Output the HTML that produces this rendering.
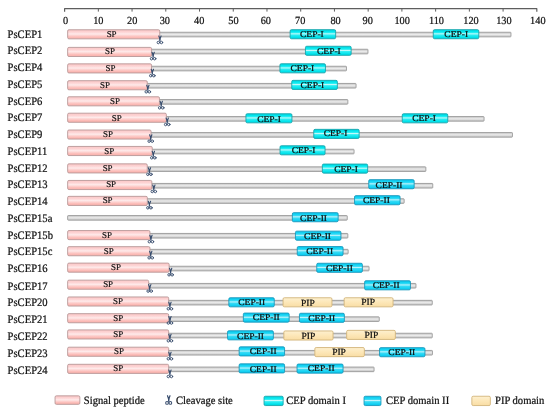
<!DOCTYPE html>
<html><head><meta charset="utf-8"><title>PsCEP protein domains</title>
<style>
html,body{margin:0;padding:0;background:#fff;}
body{width:550px;height:412px;overflow:hidden;}
svg{display:block;}
text{text-rendering:geometricPrecision;}
.t{font-family:"Liberation Serif",serif;font-size:10.6px;fill:#111;stroke:#111;stroke-width:0.22px;}
.b{font-family:"Liberation Serif",serif;font-size:9.5px;fill:#0a0a0a;stroke:#0a0a0a;stroke-width:0.24px;}
.s{font-family:"Liberation Serif",serif;font-size:8.95px;fill:#111;stroke:#111;stroke-width:0.2px;}
.k{font-family:"Liberation Serif",serif;font-size:10.3px;fill:#111;stroke:#111;stroke-width:0.22px;}
.l{font-family:"Liberation Serif",serif;font-size:10.6px;fill:#111;stroke:#111;stroke-width:0.22px;}
</style></head>
<body>
<svg width="550" height="412" viewBox="0 0 550 412">
<defs>
<linearGradient id="gsp" x1="0" y1="0" x2="0" y2="1">
<stop offset="0" stop-color="#fbc6c6"/><stop offset="0.25" stop-color="#fdd3d3"/><stop offset="0.47" stop-color="#feeaea"/><stop offset="0.6" stop-color="#fdd6d4"/><stop offset="0.8" stop-color="#fcbcb8"/><stop offset="1" stop-color="#f7b0aa"/></linearGradient>
<linearGradient id="gc1" x1="0" y1="0" x2="0" y2="1">
<stop offset="0" stop-color="#06d2da"/><stop offset="0.2" stop-color="#00e6ee"/><stop offset="0.35" stop-color="#30f0f4"/><stop offset="0.46" stop-color="#c8fafa"/><stop offset="0.58" stop-color="#30eef4"/><stop offset="0.85" stop-color="#00e2ea"/><stop offset="1" stop-color="#02cdd6"/></linearGradient>
<linearGradient id="gc2" x1="0" y1="0" x2="0" y2="1">
<stop offset="0" stop-color="#0cc4ea"/><stop offset="0.2" stop-color="#14d4f4"/><stop offset="0.35" stop-color="#3adcf6"/><stop offset="0.46" stop-color="#c4f4fc"/><stop offset="0.58" stop-color="#3adcf6"/><stop offset="0.85" stop-color="#12d0f2"/><stop offset="1" stop-color="#0abfe6"/></linearGradient>
<linearGradient id="gpip" x1="0" y1="0" x2="0" y2="1">
<stop offset="0" stop-color="#fdf0d0"/><stop offset="0.45" stop-color="#fde8ba"/><stop offset="1" stop-color="#f9dda4"/></linearGradient>
<linearGradient id="ggr" x1="0" y1="0" x2="0" y2="1">
<stop offset="0" stop-color="#cdcdcd"/><stop offset="0.25" stop-color="#d6d6d6"/><stop offset="0.5" stop-color="#ebebeb"/><stop offset="0.75" stop-color="#d2d2d2"/><stop offset="1" stop-color="#c8c8c8"/></linearGradient>
<g id="sc" fill="none" stroke="#384d6e" stroke-linecap="round">
<path d="M-1.1 0.4 L0 3.5 L1.2 0.4" stroke-width="1.1"/>
<path d="M0 3.2 V5.3" stroke-width="1.3"/>
<circle cx="-1.55" cy="6.9" r="1.25" stroke-width="0.95"/>
<circle cx="1.55" cy="6.9" r="1.25" stroke-width="0.95"/>
</g>
</defs>
<rect width="550" height="412" fill="#fff"/>
<path d="M64.6 11.8V8.7H536.82 V11.8" fill="none" stroke="#5e5e5e" stroke-width="1.2" stroke-linejoin="round"/>
<path d="M98.33 8.7V11.6 M132.06 8.7V11.6 M165.79 8.7V11.6 M199.52 8.7V11.6 M233.25 8.7V11.6 M266.98 8.7V11.6 M300.71 8.7V11.6 M334.44 8.7V11.6 M368.17 8.7V11.6 M401.9 8.7V11.6 M435.63 8.7V11.6 M469.36 8.7V11.6 M503.09 8.7V11.6" stroke="#5e5e5e" stroke-width="1"/>
<text transform="translate(65.5 24.45) scale(1 1.06)" class="k" text-anchor="middle">0</text>
<text transform="translate(98.33 24.45) scale(1 1.06)" class="k" text-anchor="middle">10</text>
<text transform="translate(132.26 24.45) scale(1 1.06)" class="k" text-anchor="middle">20</text>
<text transform="translate(164.79 24.45) scale(1 1.06)" class="k" text-anchor="middle">30</text>
<text transform="translate(199.22 24.45) scale(1 1.06)" class="k" text-anchor="middle">40</text>
<text transform="translate(233.45 24.45) scale(1 1.06)" class="k" text-anchor="middle">50</text>
<text transform="translate(265.78 24.45) scale(1 1.06)" class="k" text-anchor="middle">60</text>
<text transform="translate(300.21 24.45) scale(1 1.06)" class="k" text-anchor="middle">70</text>
<text transform="translate(335.54 24.45) scale(1 1.06)" class="k" text-anchor="middle">80</text>
<text transform="translate(367.67 24.45) scale(1 1.06)" class="k" text-anchor="middle">90</text>
<text transform="translate(402.1 24.45) scale(1 1.06)" class="k" text-anchor="middle">100</text>
<text transform="translate(436.43 24.45) scale(1 1.06)" class="k" text-anchor="middle">110</text>
<text transform="translate(470.96 24.45) scale(1 1.06)" class="k" text-anchor="middle">120</text>
<text transform="translate(503.89 24.45) scale(1 1.06)" class="k" text-anchor="middle">130</text>
<text transform="translate(537.82 24.45) scale(1 1.06)" class="k" text-anchor="middle">140</text>
<text transform="translate(7.6 37.8) scale(1 1.08)" class="t">PsCEP1</text>
<rect x="158.65" y="32.25" width="352.3" height="4.6" rx="0.6" fill="url(#ggr)" stroke="#9a9a9a" stroke-width="0.9"/>
<rect x="67.65" y="29.75" width="92.1" height="9.1" rx="1.3" fill="url(#gsp)" stroke="#b89898" stroke-width="0.9"/>
<text transform="translate(111.6 37.2) scale(1 1)" class="s" text-anchor="middle">SP</text>
<rect x="290.15" y="29.65" width="45.5" height="9.1" rx="1.3" fill="url(#gc1)" stroke="#18a6ae" stroke-width="0.9"/>
<text transform="translate(311.9 36.7) scale(1 0.93)" class="b" text-anchor="middle">CEP-I</text>
<rect x="433.25" y="29.65" width="45.5" height="9.1" rx="1.3" fill="url(#gc1)" stroke="#18a6ae" stroke-width="0.9"/>
<text transform="translate(456.2 36.7) scale(1 0.93)" class="b" text-anchor="middle">CEP-I</text>
<use href="#sc" x="159.9" y="35.6"/>
<text transform="translate(7.6 54.2) scale(1 1.08)" class="t">PsCEP2</text>
<rect x="150.45" y="49.25" width="217.5" height="4.6" rx="0.6" fill="url(#ggr)" stroke="#9a9a9a" stroke-width="0.9"/>
<rect x="67.65" y="47.4" width="83.9" height="9.1" rx="1.3" fill="url(#gsp)" stroke="#b89898" stroke-width="0.9"/>
<text transform="translate(109.9 54.4) scale(1 1)" class="s" text-anchor="middle">SP</text>
<rect x="305.45" y="46.25" width="45.7" height="9.1" rx="1.3" fill="url(#gc1)" stroke="#18a6ae" stroke-width="0.9"/>
<text transform="translate(328.9 53.8) scale(1 0.93)" class="b" text-anchor="middle">CEP-I</text>
<use href="#sc" x="153.1" y="51.8"/>
<text transform="translate(7.6 70.6) scale(1 1.08)" class="t">PsCEP4</text>
<rect x="150.45" y="66.25" width="196" height="4.6" rx="0.6" fill="url(#ggr)" stroke="#9a9a9a" stroke-width="0.9"/>
<rect x="67.65" y="63.85" width="83.9" height="9.1" rx="1.3" fill="url(#gsp)" stroke="#b89898" stroke-width="0.9"/>
<text transform="translate(110.5 71.4) scale(1 1)" class="s" text-anchor="middle">SP</text>
<rect x="279.95" y="63.75" width="45.5" height="9.1" rx="1.3" fill="url(#gc1)" stroke="#18a6ae" stroke-width="0.9"/>
<text transform="translate(302.4 71.1) scale(1 0.93)" class="b" text-anchor="middle">CEP-I</text>
<use href="#sc" x="152.3" y="68.8"/>
<text transform="translate(7.6 87.8) scale(1 1.08)" class="t">PsCEP5</text>
<rect x="146.15" y="83.45" width="209.9" height="4.6" rx="0.6" fill="url(#ggr)" stroke="#9a9a9a" stroke-width="0.9"/>
<rect x="67.65" y="80.7" width="79.6" height="9.1" rx="1.3" fill="url(#gsp)" stroke="#b89898" stroke-width="0.9"/>
<text transform="translate(105 88.3) scale(1 1)" class="s" text-anchor="middle">SP</text>
<rect x="291.75" y="80.35" width="45.6" height="9.1" rx="1.3" fill="url(#gc1)" stroke="#18a6ae" stroke-width="0.9"/>
<text transform="translate(312.4 87.9) scale(1 0.93)" class="b" text-anchor="middle">CEP-I</text>
<use href="#sc" x="147.8" y="84.9"/>
<text transform="translate(7.6 104.8) scale(1 1.08)" class="t">PsCEP6</text>
<rect x="158.35" y="99.55" width="189.5" height="4.6" rx="0.6" fill="url(#ggr)" stroke="#9a9a9a" stroke-width="0.9"/>
<rect x="67.65" y="96.75" width="91.8" height="9.1" rx="1.3" fill="url(#gsp)" stroke="#b89898" stroke-width="0.9"/>
<text transform="translate(114.9 103.8) scale(1 1)" class="s" text-anchor="middle">SP</text>
<use href="#sc" x="161.2" y="100.9"/>
<text transform="translate(7.6 120.8) scale(1 1.08)" class="t">PsCEP7</text>
<rect x="165.25" y="116.55" width="318.8" height="4.6" rx="0.6" fill="url(#ggr)" stroke="#9a9a9a" stroke-width="0.9"/>
<rect x="67.65" y="113.2" width="98.7" height="9.1" rx="1.3" fill="url(#gsp)" stroke="#b89898" stroke-width="0.9"/>
<text transform="translate(116.7 120.6) scale(1 1)" class="s" text-anchor="middle">SP</text>
<rect x="245.95" y="113.75" width="46" height="9.1" rx="1.3" fill="url(#gc1)" stroke="#18a6ae" stroke-width="0.9"/>
<text transform="translate(269 121.6) scale(1 0.93)" class="b" text-anchor="middle">CEP-I</text>
<rect x="402.25" y="113.75" width="45.5" height="9.1" rx="1.3" fill="url(#gc1)" stroke="#18a6ae" stroke-width="0.9"/>
<text transform="translate(424.1 121) scale(1 0.93)" class="b" text-anchor="middle">CEP-I</text>
<use href="#sc" x="167.2" y="117.6"/>
<text transform="translate(7.6 138.3) scale(1 1.08)" class="t">PsCEP9</text>
<rect x="149.95" y="132.55" width="362.5" height="4.6" rx="0.6" fill="url(#ggr)" stroke="#9a9a9a" stroke-width="0.9"/>
<rect x="67.65" y="130" width="83.4" height="9.1" rx="1.3" fill="url(#gsp)" stroke="#b89898" stroke-width="0.9"/>
<text transform="translate(107.9 137.4) scale(1 1)" class="s" text-anchor="middle">SP</text>
<rect x="313.75" y="129.35" width="45.4" height="9.1" rx="1.3" fill="url(#gc1)" stroke="#18a6ae" stroke-width="0.9"/>
<text transform="translate(335.5 136.4) scale(1 0.93)" class="b" text-anchor="middle">CEP-I</text>
<use href="#sc" x="150.7" y="134.3"/>
<text transform="translate(7.6 154.9) scale(1 1.08)" class="t">PsCEP11</text>
<rect x="151.15" y="149.25" width="202.9" height="4.6" rx="0.6" fill="url(#ggr)" stroke="#9a9a9a" stroke-width="0.9"/>
<rect x="67.65" y="146.45" width="84.6" height="9.1" rx="1.3" fill="url(#gsp)" stroke="#b89898" stroke-width="0.9"/>
<text transform="translate(109.3 153.8) scale(1 1)" class="s" text-anchor="middle">SP</text>
<rect x="280.05" y="145.75" width="45" height="9.1" rx="1.3" fill="url(#gc1)" stroke="#18a6ae" stroke-width="0.9"/>
<text transform="translate(303.5 153.3) scale(1 0.93)" class="b" text-anchor="middle">CEP-I</text>
<use href="#sc" x="153.3" y="150.9"/>
<text transform="translate(7.6 171.9) scale(1 1.08)" class="t">PsCEP12</text>
<rect x="146.15" y="166.85" width="279.7" height="4.6" rx="0.6" fill="url(#ggr)" stroke="#9a9a9a" stroke-width="0.9"/>
<rect x="67.65" y="163.85" width="79.6" height="9.1" rx="1.3" fill="url(#gsp)" stroke="#b89898" stroke-width="0.9"/>
<text transform="translate(107.6 170.6) scale(1 1)" class="s" text-anchor="middle">SP</text>
<rect x="322.35" y="164.05" width="45.3" height="9.1" rx="1.3" fill="url(#gc1)" stroke="#18a6ae" stroke-width="0.9"/>
<text transform="translate(346 171.8) scale(1 0.93)" class="b" text-anchor="middle">CEP-I</text>
<use href="#sc" x="149.4" y="167.4"/>
<text transform="translate(7.6 188.3) scale(1 1.08)" class="t">PsCEP13</text>
<rect x="150.75" y="183.45" width="282" height="4.6" rx="0.6" fill="url(#ggr)" stroke="#9a9a9a" stroke-width="0.9"/>
<rect x="67.65" y="180.45" width="84.2" height="9.1" rx="1.3" fill="url(#gsp)" stroke="#b89898" stroke-width="0.9"/>
<text transform="translate(111.1 186.8) scale(1 1)" class="s" text-anchor="middle">SP</text>
<rect x="368.75" y="179.65" width="45.4" height="9.1" rx="1.3" fill="url(#gc2)" stroke="#1a98bc" stroke-width="0.9"/>
<text transform="translate(389 187.5) scale(1 0.93)" class="b" text-anchor="middle">CEP-II</text>
<use href="#sc" x="153.8" y="184.6"/>
<text transform="translate(7.6 205.3) scale(1 1.08)" class="t">PsCEP14</text>
<rect x="146.25" y="198.75" width="257.9" height="4.6" rx="0.6" fill="url(#ggr)" stroke="#9a9a9a" stroke-width="0.9"/>
<rect x="67.65" y="196.35" width="79.7" height="9.1" rx="1.3" fill="url(#gsp)" stroke="#b89898" stroke-width="0.9"/>
<text transform="translate(107.6 203.2) scale(1 1)" class="s" text-anchor="middle">SP</text>
<rect x="354.55" y="195.65" width="45.5" height="9.1" rx="1.3" fill="url(#gc2)" stroke="#1a98bc" stroke-width="0.9"/>
<text transform="translate(376.4 203.3) scale(1 0.93)" class="b" text-anchor="middle">CEP-II</text>
<use href="#sc" x="149.4" y="200.9"/>
<text transform="translate(7.6 221.9) scale(1 1.08)" class="t">PsCEP15a</text>
<rect x="67.65" y="215.55" width="279.6" height="4.6" rx="0.6" fill="url(#ggr)" stroke="#9a9a9a" stroke-width="0.9"/>
<rect x="292.35" y="212.65" width="45.8" height="9.1" rx="1.3" fill="url(#gc2)" stroke="#1a98bc" stroke-width="0.9"/>
<text transform="translate(313.5 220.5) scale(1 0.93)" class="b" text-anchor="middle">CEP-II</text>
<text transform="translate(7.6 238.9) scale(1 1.08)" class="t">PsCEP15b</text>
<rect x="148.85" y="233.45" width="199" height="4.6" rx="0.6" fill="url(#ggr)" stroke="#9a9a9a" stroke-width="0.9"/>
<rect x="67.65" y="230.55" width="82.3" height="9.1" rx="1.3" fill="url(#gsp)" stroke="#b89898" stroke-width="0.9"/>
<text transform="translate(107 237.8) scale(1 1)" class="s" text-anchor="middle">SP</text>
<rect x="295.45" y="231.15" width="45.5" height="9.1" rx="1.3" fill="url(#gc2)" stroke="#1a98bc" stroke-width="0.9"/>
<text transform="translate(317.5 238.5) scale(1 0.93)" class="b" text-anchor="middle">CEP-II</text>
<use href="#sc" x="150.9" y="234.8"/>
<text transform="translate(7.6 255.3) scale(1 1.08)" class="t">PsCEP15c</text>
<rect x="148.85" y="249.35" width="199.3" height="4.6" rx="0.6" fill="url(#ggr)" stroke="#9a9a9a" stroke-width="0.9"/>
<rect x="67.65" y="246.65" width="82.3" height="9.1" rx="1.3" fill="url(#gsp)" stroke="#b89898" stroke-width="0.9"/>
<text transform="translate(108.8 253.8) scale(1 1)" class="s" text-anchor="middle">SP</text>
<rect x="297.25" y="246.55" width="45.8" height="9.1" rx="1.3" fill="url(#gc2)" stroke="#1a98bc" stroke-width="0.9"/>
<text transform="translate(319.7 253.8) scale(1 0.93)" class="b" text-anchor="middle">CEP-II</text>
<use href="#sc" x="150.7" y="250.9"/>
<text transform="translate(7.6 272.3) scale(1 1.08)" class="t">PsCEP16</text>
<rect x="168.05" y="266.25" width="201" height="4.6" rx="0.6" fill="url(#ggr)" stroke="#9a9a9a" stroke-width="0.9"/>
<rect x="67.65" y="263.1" width="101.5" height="9.1" rx="1.3" fill="url(#gsp)" stroke="#b89898" stroke-width="0.9"/>
<text transform="translate(116 269.6) scale(1 1)" class="s" text-anchor="middle">SP</text>
<rect x="316.75" y="263.25" width="45.6" height="9.1" rx="1.3" fill="url(#gc2)" stroke="#1a98bc" stroke-width="0.9"/>
<text transform="translate(339.4 270.5) scale(1 0.93)" class="b" text-anchor="middle">CEP-II</text>
<use href="#sc" x="170.6" y="267.9"/>
<text transform="translate(7.6 289.5) scale(1 1.08)" class="t">PsCEP17</text>
<rect x="147.55" y="283.45" width="268.4" height="4.6" rx="0.6" fill="url(#ggr)" stroke="#9a9a9a" stroke-width="0.9"/>
<rect x="67.65" y="280.15" width="81" height="9.1" rx="1.3" fill="url(#gsp)" stroke="#b89898" stroke-width="0.9"/>
<text transform="translate(108.1 287.4) scale(1 1)" class="s" text-anchor="middle">SP</text>
<rect x="364.65" y="280.75" width="45.8" height="9.1" rx="1.3" fill="url(#gc2)" stroke="#1a98bc" stroke-width="0.9"/>
<text transform="translate(386.1 288) scale(1 0.93)" class="b" text-anchor="middle">CEP-II</text>
<use href="#sc" x="149.7" y="284.2"/>
<text transform="translate(7.6 306.1) scale(1 1.08)" class="t">PsCEP20</text>
<rect x="167.55" y="300.35" width="264.7" height="4.6" rx="0.6" fill="url(#ggr)" stroke="#9a9a9a" stroke-width="0.9"/>
<rect x="67.65" y="296.95" width="101" height="9.1" rx="1.3" fill="url(#gsp)" stroke="#b89898" stroke-width="0.9"/>
<text transform="translate(118 303.8) scale(1 1)" class="s" text-anchor="middle">SP</text>
<rect x="228.85" y="297.75" width="45.4" height="9.1" rx="1.3" fill="url(#gc2)" stroke="#1a98bc" stroke-width="0.9"/>
<text transform="translate(251.7 304.7) scale(1 0.93)" class="b" text-anchor="middle">CEP-II</text>
<rect x="283.05" y="297.75" width="48.9" height="9.1" rx="1.3" fill="url(#gpip)" stroke="#d2b47a" stroke-width="0.9"/>
<text transform="translate(307.9 306) scale(1 1)" class="b" text-anchor="middle">PIP</text>
<rect x="344.15" y="297.75" width="48.9" height="9.1" rx="1.3" fill="url(#gpip)" stroke="#d2b47a" stroke-width="0.9"/>
<text transform="translate(368.2 305.3) scale(1 1)" class="b" text-anchor="middle">PIP</text>
<use href="#sc" x="169.9" y="301.9"/>
<text transform="translate(7.6 322.8) scale(1 1.08)" class="t">PsCEP21</text>
<rect x="167.55" y="316.85" width="211.7" height="4.6" rx="0.6" fill="url(#ggr)" stroke="#9a9a9a" stroke-width="0.9"/>
<rect x="67.65" y="313.65" width="101" height="9.1" rx="1.3" fill="url(#gsp)" stroke="#b89898" stroke-width="0.9"/>
<text transform="translate(118.3 320.6) scale(1 1)" class="s" text-anchor="middle">SP</text>
<rect x="243.35" y="313.05" width="45.8" height="9.1" rx="1.3" fill="url(#gc2)" stroke="#1a98bc" stroke-width="0.9"/>
<text transform="translate(266.3 320) scale(1 0.93)" class="b" text-anchor="middle">CEP-II</text>
<rect x="299.45" y="313.25" width="44.9" height="9.1" rx="1.3" fill="url(#gc2)" stroke="#1a98bc" stroke-width="0.9"/>
<text transform="translate(321.7 320.8) scale(1 0.93)" class="b" text-anchor="middle">CEP-II</text>
<use href="#sc" x="169.9" y="316.1"/>
<text transform="translate(7.6 339.8) scale(1 1.08)" class="t">PsCEP22</text>
<rect x="167.55" y="333.25" width="264.7" height="4.6" rx="0.6" fill="url(#ggr)" stroke="#9a9a9a" stroke-width="0.9"/>
<rect x="67.65" y="329.9" width="101" height="9.1" rx="1.3" fill="url(#gsp)" stroke="#b89898" stroke-width="0.9"/>
<text transform="translate(118.3 337.4) scale(1 1)" class="s" text-anchor="middle">SP</text>
<rect x="227.55" y="330.75" width="45.8" height="9.1" rx="1.3" fill="url(#gc2)" stroke="#1a98bc" stroke-width="0.9"/>
<text transform="translate(250.5 338.8) scale(1 0.93)" class="b" text-anchor="middle">CEP-II</text>
<rect x="283.85" y="330.95" width="49.2" height="9.1" rx="1.3" fill="url(#gpip)" stroke="#d2b47a" stroke-width="0.9"/>
<text transform="translate(308.4 338.8) scale(1 1)" class="b" text-anchor="middle">PIP</text>
<rect x="346.65" y="330.35" width="48.7" height="9.1" rx="1.3" fill="url(#gpip)" stroke="#d2b47a" stroke-width="0.9"/>
<text transform="translate(371.3 338.2) scale(1 1)" class="b" text-anchor="middle">PIP</text>
<use href="#sc" x="169.9" y="333.9"/>
<text transform="translate(7.6 356.5) scale(1 1.08)" class="t">PsCEP23</text>
<rect x="167.55" y="350.45" width="264.9" height="4.6" rx="0.6" fill="url(#ggr)" stroke="#9a9a9a" stroke-width="0.9"/>
<rect x="67.65" y="347.2" width="101" height="9.1" rx="1.3" fill="url(#gsp)" stroke="#b89898" stroke-width="0.9"/>
<text transform="translate(118.9 353.8) scale(1 1)" class="s" text-anchor="middle">SP</text>
<rect x="239.15" y="346.85" width="45.4" height="9.1" rx="1.3" fill="url(#gc2)" stroke="#1a98bc" stroke-width="0.9"/>
<text transform="translate(263.2 354.4) scale(1 0.93)" class="b" text-anchor="middle">CEP-II</text>
<rect x="314.85" y="347.55" width="49.5" height="9.1" rx="1.3" fill="url(#gpip)" stroke="#d2b47a" stroke-width="0.9"/>
<text transform="translate(339 355.2) scale(1 1)" class="b" text-anchor="middle">PIP</text>
<rect x="379.55" y="347.65" width="45.4" height="9.1" rx="1.3" fill="url(#gc2)" stroke="#1a98bc" stroke-width="0.9"/>
<text transform="translate(401.8 355.4) scale(1 0.93)" class="b" text-anchor="middle">CEP-II</text>
<use href="#sc" x="169.9" y="351.9"/>
<text transform="translate(7.6 373.5) scale(1 1.08)" class="t">PsCEP24</text>
<rect x="167.55" y="367.05" width="206.5" height="4.6" rx="0.6" fill="url(#ggr)" stroke="#9a9a9a" stroke-width="0.9"/>
<rect x="67.65" y="364.3" width="101" height="9.1" rx="1.3" fill="url(#gsp)" stroke="#b89898" stroke-width="0.9"/>
<text transform="translate(118.3 371.4) scale(1 1)" class="s" text-anchor="middle">SP</text>
<rect x="239.15" y="363.85" width="45.4" height="9.1" rx="1.3" fill="url(#gc2)" stroke="#1a98bc" stroke-width="0.9"/>
<text transform="translate(263.2 371.6) scale(1 0.93)" class="b" text-anchor="middle">CEP-II</text>
<rect x="297.05" y="364.05" width="46" height="9.1" rx="1.3" fill="url(#gc2)" stroke="#1a98bc" stroke-width="0.9"/>
<text transform="translate(321.2 371.3) scale(1 0.93)" class="b" text-anchor="middle">CEP-II</text>
<use href="#sc" x="169.9" y="369.6"/>
<rect x="55.05" y="395.85" width="24.8" height="8.5" rx="1.3" fill="url(#gsp)" stroke="#b89898" stroke-width="0.9"/>
<text transform="translate(83.8 403.8) scale(1 1.06)" class="l">Signal peptide</text>
<use href="#sc" transform="translate(168.7 395.3) scale(1.08 1.1)"/>
<text transform="translate(176 403.8) scale(1 1.06)" class="l">Cleavage site</text>
<rect x="264.05" y="396.25" width="19.1" height="9.3" rx="1.3" fill="url(#gc1)" stroke="#18a6ae" stroke-width="0.9"/>
<text transform="translate(286.3 403.8) scale(1 1.06)" class="l">CEP domain I</text>
<rect x="364.05" y="396.25" width="16.9" height="9.3" rx="1.3" fill="url(#gc2)" stroke="#1a98bc" stroke-width="0.9"/>
<text transform="translate(386 403.8) scale(1 1.06)" class="l">CEP domain II</text>
<rect x="471.85" y="396.25" width="18.5" height="9.3" rx="1.3" fill="url(#gpip)" stroke="#d2b47a" stroke-width="0.9"/>
<text transform="translate(495 403.8) scale(1 1.06)" class="l">PIP domain</text>
</svg>
</body></html>
